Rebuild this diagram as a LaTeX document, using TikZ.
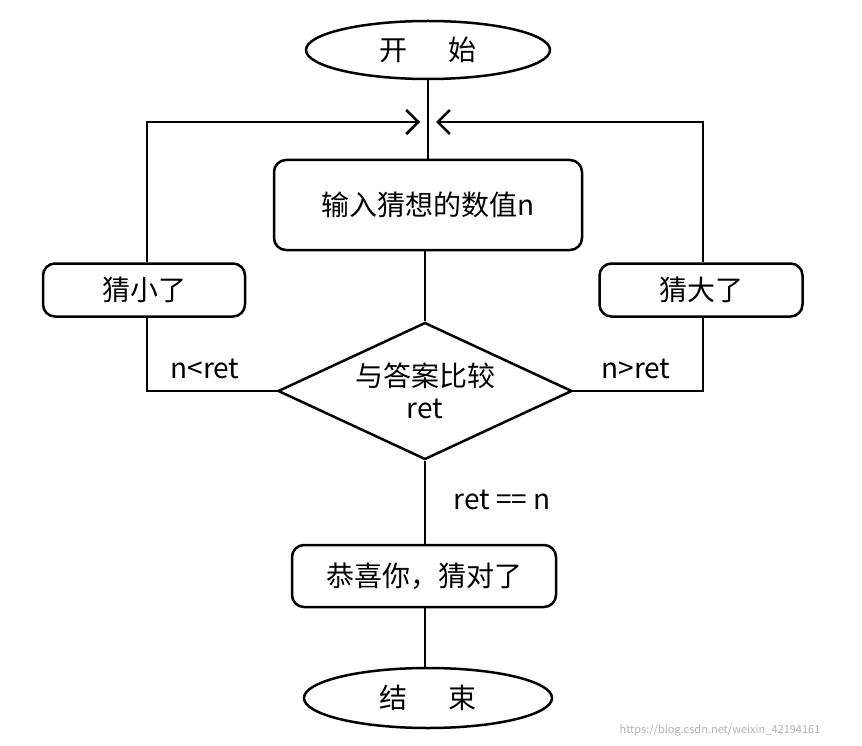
\documentclass[tikz,border=0pt]{standalone}
\usepackage{fontspec}
\setmainfont{Noto Sans CJK SC}
\usetikzlibrary{shapes.geometric,arrows.meta}
\begin{document}
\begin{tikzpicture}[x=1pt,y=-1pt,line width=2.5pt,
  every node/.style={font=\fontsize{28}{32}\selectfont},
  term/.style={draw,ellipse,minimum width=244pt,minimum height=58pt,inner sep=0pt},
  proc/.style={draw,rounded corners=12pt,inner sep=0pt},
  test/.style={draw,diamond,aspect=2.15,inner sep=0pt,minimum width=294pt,minimum height=137pt,align=center},
  arr/.style={-{Straight Barb[length=12pt,width=24pt,line width=2.5pt]},shorten >=8pt}]
\useasboundingbox (0,0) rectangle (862,746);
% nodes
\node[term] (start) at (428,50) {开\quad\ \ 始};
\node[proc,minimum width=308pt,minimum height=90pt] (input) at (428,205) {输入猜想的数值n};
\node[test] (cmp) at (425,391) {与答案比较\\[0pt]ret};
\node[proc,minimum width=202pt,minimum height=53pt] (small) at (144,290) {猜小了};
\node[proc,minimum width=203pt,minimum height=53pt] (big) at (701,290) {猜大了};
\node[proc,minimum width=264pt,minimum height=62pt] (ok) at (424,576) {恭喜你，猜对了};
\node[term,minimum width=248pt,minimum height=60pt] (stop) at (428,698) {结\quad\ \ 束};
\coordinate (merge) at (428,122);
\coordinate (lt) at (147,122);
\coordinate (rt) at (703,122);
\coordinate (lb) at (147,391);
\coordinate (rb) at (703,391);
% connectors
\draw (start.south) -- (input.north);
\draw (input.south -| cmp.north) -- (cmp.north);
\draw (cmp.west) -- (lb) -- (small.south -| lb);
\draw[arr] (small.north -| lt) -- (lt) -- (merge);
\draw (cmp.east) -- (rb) -- (big.south -| rb);
\draw[arr] (big.north -| rt) -- (rt) -- (merge);
\draw (cmp.south) -- (ok.north -| cmp.south);
\draw (ok.south -| cmp.south) -- (stop.north -| cmp.south);
% labels
\node at (205,369) {n<ret};
\node at (636,369) {n>ret};
\node at (502,500) {ret == n};
\node[font=\fontsize{11}{13}\selectfont,text=gray!60] at (720,730) {https://blog.csdn.net/weixin\_42194161};
\end{tikzpicture}
\end{document}
